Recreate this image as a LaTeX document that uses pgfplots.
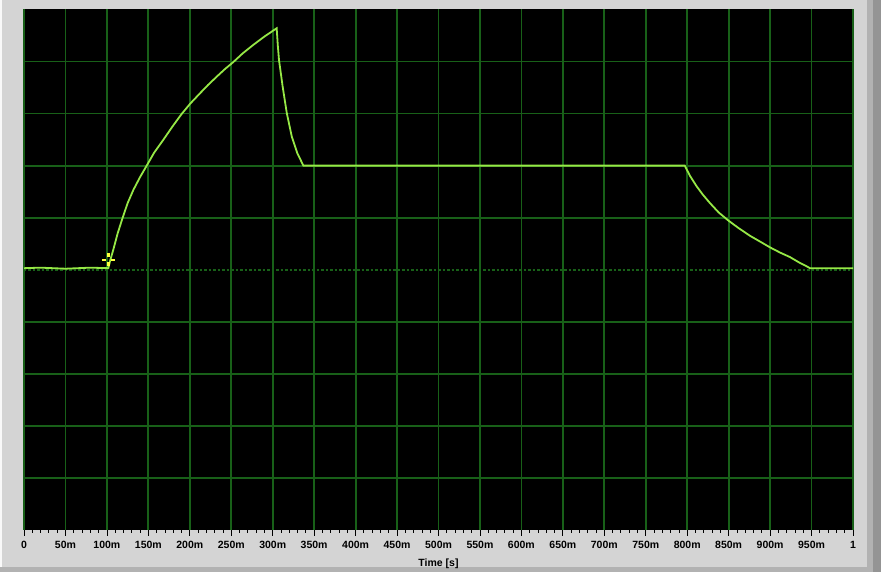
\documentclass[border=0pt]{standalone}
\usepackage{fontspec}
\setmainfont{Liberation Sans}
\usepackage{pgfplots}
\pgfplotsset{compat=1.18}
\definecolor{bg}{RGB}{212,212,212}
\definecolor{gridg}{RGB}{24,96,24}
\definecolor{zerog}{RGB}{24,96,24}
\definecolor{trace}{RGB}{150,232,70}
\definecolor{curs}{RGB}{255,255,60}
\pgfdeclareplotmark{cursor}{%
 \pgfpathmoveto{\pgfqpoint{-6.5pt}{0pt}}\pgfpathlineto{\pgfqpoint{-2.5pt}{0pt}}%
 \pgfpathmoveto{\pgfqpoint{2.5pt}{0pt}}\pgfpathlineto{\pgfqpoint{6.5pt}{0pt}}%
 \pgfpathmoveto{\pgfqpoint{0pt}{-6.5pt}}\pgfpathlineto{\pgfqpoint{0pt}{-2.5pt}}%
 \pgfpathmoveto{\pgfqpoint{0pt}{2.5pt}}\pgfpathlineto{\pgfqpoint{0pt}{6.5pt}}%
 \pgfusepathqstroke}
\begin{document}
\begin{tikzpicture}[x=1pt,y=1pt]
\fill[bg] (0,0) rectangle (881,572);
\fill[white!85!bg] (0,0) rectangle (2,572);
\fill[black!30] (867,0) rectangle (873,572);
\fill[black!42] (873,0) rectangle (881,572);
\fill[black!30] (0,0) rectangle (867,5);
\begin{axis}[
  at={(24pt,42pt)}, anchor=south west,
  scale only axis, width=829pt, height=520.5pt,
  xmin=0, xmax=1, ymin=-5, ymax=5,
  axis background/.style={fill=black},
  axis line style={draw=none},
  xtick={0,0.05,0.1,0.15,0.2,0.25,0.3,0.35,0.4,0.45,0.5,0.55,0.6,0.65,0.7,0.75,0.8,0.85,0.9,0.95,1},
  xticklabels={0,50m,100m,150m,200m,250m,300m,350m,400m,450m,500m,550m,600m,650m,700m,750m,800m,850m,900m,950m,1},
  minor x tick num=4,
  xtick pos=left,
  tick align=outside,
  major tick length=6pt, minor tick length=3pt,
  x tick style={black, line width=0.8pt},
  xticklabel style={font=\fontsize{10.5}{12}\selectfont\bfseries, text=black, yshift=-2pt},
  xlabel={Time [s]},
  xlabel style={font=\fontsize{10.5}{12}\selectfont\bfseries, text=black, yshift=-3.5pt},
  ytick=\empty,
  xmajorgrids,
  x grid style={gridg, line width=1.8pt},
  clip=true,
]
\addplot[gridg, line width=1.8pt, forget plot] coordinates {(0,4) (1,4)};
\addplot[gridg, line width=1.8pt, forget plot] coordinates {(0,3) (1,3)};
\addplot[gridg, line width=1.8pt, forget plot] coordinates {(0,2) (1,2)};
\addplot[gridg, line width=1.8pt, forget plot] coordinates {(0,1) (1,1)};
\addplot[gridg, line width=1.8pt, forget plot] coordinates {(0,-1) (1,-1)};
\addplot[gridg, line width=1.8pt, forget plot] coordinates {(0,-2) (1,-2)};
\addplot[gridg, line width=1.8pt, forget plot] coordinates {(0,-3) (1,-3)};
\addplot[gridg, line width=1.8pt, forget plot] coordinates {(0,-4) (1,-4)};
\addplot[zerog, line width=1.8pt, dash pattern=on 2.5pt off 2pt] coordinates {(0,0) (1,0)};
\addplot[trace, line width=1.8pt] coordinates {
(0,0.03) (0.02,0.04) (0.05,0.02) (0.08,0.04) (0.1017,0.03)
(0.1040,0.18) (0.1077,0.384) (0.113,0.70) (0.119,1.0) (0.125,1.28)
(0.132,1.536) (0.140,1.78) (0.148,2.0) (0.157,2.25) (0.168,2.495)
(0.179,2.75) (0.190,2.99) (0.201,3.2) (0.2123,3.39) (0.222,3.55)
(0.2325,3.71) (0.242,3.85) (0.2525,3.99) (0.264,4.16) (0.2766,4.32)
(0.290,4.48) (0.3048,4.64) (0.3062,4.30) (0.3076,4.03) (0.312,3.52)
(0.317,3.01) (0.323,2.56) (0.3297,2.24) (0.337,2.0) (0.5,2.0)
(0.797,2.0) (0.8035,1.8) (0.8115,1.6) (0.819,1.44) (0.8275,1.28)
(0.838,1.1) (0.8496,0.946) (0.862,0.8) (0.8757,0.653) (0.888,0.54)
(0.8999,0.43) (0.912,0.33) (0.924,0.243) (0.935,0.14) (0.946,0.05)
(0.948,0.03) (1,0.03)};
\addplot[only marks, mark=cursor, curs, line width=2.6pt] coordinates {(0.1017,0.19)};
\end{axis}
\pgfresetboundingbox
\path (0,0) rectangle (881,572);
\end{tikzpicture}
\end{document}
